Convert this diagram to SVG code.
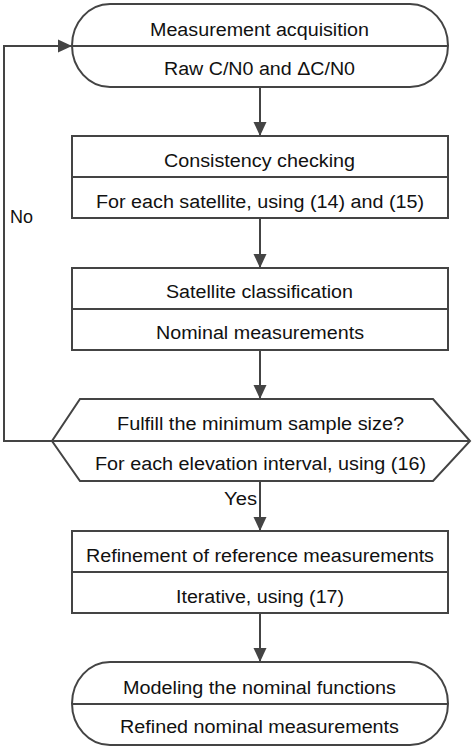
<svg xmlns="http://www.w3.org/2000/svg" width="474" height="750" viewBox="0 0 474 750">
<style>
.s{fill:#fff;stroke:#444;stroke-width:2}
.l{stroke:#444;stroke-width:2;fill:none}
.c{stroke:#444;stroke-width:2;fill:none;marker-end:url(#a)}
text{font-family:"Liberation Sans",Arial,sans-serif;font-size:18px;fill:#111;text-anchor:middle}
</style>
<defs>
<marker id="a" markerWidth="14" markerHeight="14" viewBox="0 0 14 14" refX="14" refY="7" orient="auto" markerUnits="userSpaceOnUse">
<path d="M0,0.5 L14,7 L0,13.5 Z" fill="#444"/>
</marker>
</defs>
<rect width="474" height="750" fill="#fff"/>
<g id="connectors">
<line class="c" x1="260" y1="87" x2="260" y2="136"/>
<line class="c" x1="260" y1="218" x2="260" y2="268"/>
<line class="c" x1="260" y1="350" x2="260" y2="399"/>
<line class="c" x1="260" y1="481" x2="260" y2="531"/>
<line class="c" x1="260" y1="613" x2="260" y2="662"/>
<path class="c" d="M52,441 H4 V46 H72"/>
<text x="21.5" y="223" textLength="23" lengthAdjust="spacingAndGlyphs">No</text>
<text x="240.5" y="505" textLength="33" lengthAdjust="spacingAndGlyphs">Yes</text>
</g>
<g id="n1">
<rect class="s" x="72" y="4" width="376" height="83" rx="38" ry="41.5"/>
<line class="l" x1="72" y1="46" x2="448" y2="46"/>
<text x="259.5" y="36" textLength="219" lengthAdjust="spacingAndGlyphs">Measurement acquisition</text>
<text x="259.5" y="75" textLength="191" lengthAdjust="spacingAndGlyphs">Raw C/N0 and ΔC/N0</text>
</g>
<g id="n2">
<rect class="s" x="72" y="136" width="376" height="82"/>
<line class="l" x1="72" y1="177" x2="448" y2="177"/>
<text x="259.5" y="167" textLength="191" lengthAdjust="spacingAndGlyphs">Consistency checking</text>
<text x="260" y="208" textLength="328" lengthAdjust="spacingAndGlyphs">For each satellite, using (14) and (15)</text>
</g>
<g id="n3">
<rect class="s" x="72" y="268" width="376" height="82"/>
<line class="l" x1="72" y1="309" x2="448" y2="309"/>
<text x="259.5" y="298" textLength="187" lengthAdjust="spacingAndGlyphs">Satellite classification</text>
<text x="260" y="339" textLength="208" lengthAdjust="spacingAndGlyphs">Nominal measurements</text>
</g>
<g id="n4">
<polygon class="s" points="80,399 433,399 470,441 433,481 80,481 52,441"/>
<line class="l" x1="52" y1="441" x2="470" y2="441"/>
<text x="260.5" y="430" textLength="287" lengthAdjust="spacingAndGlyphs">Fulfill the minimum sample size?</text>
<text x="260.5" y="470" textLength="331" lengthAdjust="spacingAndGlyphs">For each elevation interval, using (16)</text>
</g>
<g id="n5">
<rect class="s" x="72" y="531" width="376" height="82"/>
<line class="l" x1="72" y1="572" x2="448" y2="572"/>
<text x="260" y="562" textLength="348" lengthAdjust="spacingAndGlyphs">Refinement of reference measurements</text>
<text x="260" y="603" textLength="168" lengthAdjust="spacingAndGlyphs">Iterative, using (17)</text>
</g>
<g id="n6">
<rect class="s" x="72" y="662" width="376" height="83" rx="38" ry="41.5"/>
<line class="l" x1="72" y1="704" x2="448" y2="704"/>
<text x="259.5" y="694" textLength="273" lengthAdjust="spacingAndGlyphs">Modeling the nominal functions</text>
<text x="259.5" y="733" textLength="279" lengthAdjust="spacingAndGlyphs">Refined nominal measurements</text>
</g>
</svg>
